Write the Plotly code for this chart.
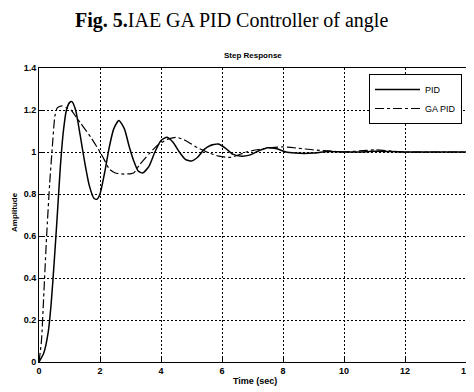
import plotly.graph_objects as go

# PID (solid) step response
pid_t = [0, 0.15, 0.3, 0.4, 0.5, 0.6, 0.7, 0.8, 0.9, 1.0, 1.08, 1.2, 1.35, 1.5, 1.65, 1.8, 1.9, 2.0, 2.15,
         2.3, 2.45, 2.62, 2.8, 2.95, 3.1, 3.25, 3.4, 3.6, 3.8, 4.0, 4.2, 4.4, 4.6, 4.8, 5.0, 5.2, 5.4, 5.6,
         5.87, 6.1, 6.35, 6.65, 6.9, 7.2, 7.5, 7.8, 8.1, 8.4, 8.7, 9.0, 9.5, 10, 10.5, 11, 11.5, 12, 12.5,
         13, 13.5, 14]
pid_y = [0, 0.04, 0.14, 0.28, 0.48, 0.7, 0.93, 1.10, 1.2, 1.235, 1.24, 1.2, 1.08, 0.95, 0.84, 0.78, 0.775,
         0.80, 0.9, 1.02, 1.11, 1.15, 1.11, 1.03, 0.96, 0.91, 0.9, 0.93, 1.0, 1.055, 1.07, 1.045, 1.0, 0.965,
         0.957, 0.975, 1.01, 1.03, 1.038, 1.02, 0.99, 0.98, 0.985, 1.005, 1.02, 1.015, 1.0, 0.995, 0.993,
         0.995, 1.002, 1.0, 1.0, 1.003, 1.002, 1.0, 1.0, 1.0, 1.0, 1.0]

# GA PID (dash-dot) step response
ga_t = [0, 0.08, 0.15, 0.25, 0.35, 0.45, 0.52, 0.6, 0.75, 0.9, 1.05, 1.2, 1.35, 1.7, 2.0, 2.15, 2.3, 2.5,
        2.8, 3.1, 3.3, 3.6, 3.87, 4.2, 4.5, 4.8, 5.2, 5.5, 5.9, 6.3, 6.8, 7.2, 7.6, 8.0, 8.5, 9.0, 9.5, 10,
        10.5, 11, 11.5, 12, 13, 14]
ga_y = [0, 0.1, 0.3, 0.6, 0.85, 1.05, 1.17, 1.21, 1.22, 1.21, 1.2, 1.17, 1.14, 1.07, 1.0, 0.96, 0.92, 0.9,
        0.895, 0.9, 0.94, 0.99, 1.03, 1.06, 1.07, 1.055, 1.02, 1.0, 0.98, 0.975, 1.0, 1.012, 1.02, 1.024,
        1.018, 1.01, 1.005, 1.0, 1.005, 1.01, 1.005, 1.0, 1.0, 1.0]

x_ticks = [0, 2, 4, 6, 8, 10, 12, 14]
y_ticks = [0, 0.2, 0.4, 0.6, 0.8, 1, 1.2, 1.4]
y_tick_labels = ["0", "0.2", "0.4", "0.6", "0.8", "1", "1.2", "1.4"]

# page body has an 8px margin: figure spans 8..474 x 8..392 on screen
OFF = 8
W, H = 474 - OFF, 392 - OFF
L, R, T, B = 39 - OFF, 8, 68 - OFF, 30
pw, ph = W - L - R, H - T - B


def px(x):
    return (x - OFF - L) / pw


def py(y):
    return (H - B - (y - OFF)) / ph


fig = go.Figure()
fig.add_trace(go.Scatter(x=pid_t, y=pid_y, name="PID", mode="lines",
                         line=dict(color="black", width=1.5, shape="spline", smoothing=0.6)))
fig.add_trace(go.Scatter(x=ga_t, y=ga_y, name="GA PID", mode="lines",
                         line=dict(color="black", width=1.2, dash="dashdot", shape="spline", smoothing=0.6)))

sans = "Arial, Liberation Sans, sans-serif"
tickfont = dict(family=sans, size=9, color="black", weight="bold")
fig.update_layout(
    width=W, height=H,
    margin=dict(l=L, r=R, t=T, b=B, autoexpand=False),
    paper_bgcolor="white", plot_bgcolor="white",
    showlegend=True,
    legend=dict(x=px(462), y=py(74), xanchor="right", yanchor="top",
                bgcolor="white", bordercolor="black", borderwidth=1,
                font=dict(family=sans, size=9, color="black"),
                itemwidth=45, tracegroupgap=0),
    font=dict(family=sans, size=9, color="black"),
)
common = dict(showline=True, linecolor="black", linewidth=1, mirror=True, showgrid=True,
              gridcolor="black", griddash="2px,2px", gridwidth=1, ticks="inside", ticklen=4,
              tickcolor="black", zeroline=False, tickfont=tickfont, automargin=False,
              ticklabeloverflow="allow")
fig.update_xaxes(range=[0, 14], tickvals=x_ticks, **common)
fig.update_yaxes(range=[0, 1.4], tickvals=y_ticks, ticktext=y_tick_labels, **common)

fig.update_layout(annotations=[
    dict(text="<b>Fig. 5.</b>IAE GA PID Controller of angle", xref="paper", yref="paper",
         x=px(231), y=py(20), xanchor="center", yanchor="middle", showarrow=False,
         font=dict(family="Liberation Serif, Times New Roman, serif", size=20, color="black")),
    dict(text="<b>Step Response</b>", xref="paper", yref="paper",
         x=px(253), y=py(55), xanchor="center", yanchor="middle", showarrow=False,
         font=dict(family=sans, size=8, color="black")),
    dict(text="<b>Time (sec)</b>", xref="paper", yref="paper",
         x=px(255), y=py(381), xanchor="center", yanchor="middle", showarrow=False,
         font=dict(family=sans, size=9, color="black")),
    dict(text="<b>Amplitude</b>", xref="paper", yref="paper", textangle=-90,
         x=px(14), y=py(212), xanchor="center", yanchor="middle", showarrow=False,
         font=dict(family=sans, size=8, color="black")),
])

fig.write_html("out.html")
